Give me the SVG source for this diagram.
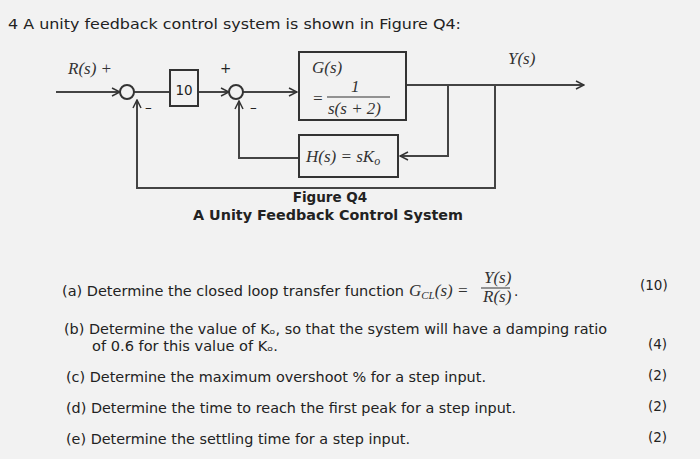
<svg xmlns="http://www.w3.org/2000/svg" width="700" height="459" viewBox="0 0 700 459">
<defs><marker id="ah" markerWidth="10" markerHeight="10" refX="9" refY="5" orient="auto" markerUnits="userSpaceOnUse"><path d="M1,1 L9,5 L1,9" fill="none" stroke="#333" stroke-width="1.5"/></marker></defs>
<style>
.t{font-family:"DejaVu Sans",sans-serif;fill:#222;font-size:13.5px}
.m{font-family:"Liberation Serif",serif;font-style:italic;fill:#333;font-size:17px}
.b{fill:none;stroke:#333;stroke-width:2}
.l{fill:none;stroke:#444;stroke-width:2}
</style>
<rect width="700" height="459" fill="#f2f2f2"/>
<text class="t" x="8" y="29" font-size="15" textLength="453" lengthAdjust="spacingAndGlyphs">4  A unity feedback control system is shown in Figure Q4:</text>
<g id="conn">
<path class="l" d="M56,92 H120" marker-end="url(#ah)"/>
<path class="l" d="M134,92 H170"/>
<path class="l" d="M198,92 H229" marker-end="url(#ah)"/>
<path class="l" d="M243,92 H297" marker-end="url(#ah)"/>
<path class="l" d="M406,85 H584" marker-end="url(#ah)"/>
<path class="l" d="M448,85 V156 H400" marker-end="url(#ah)"/>
<path class="l" d="M299,158 H239 V101" marker-end="url(#ah)"/>
<path class="l" d="M495,85 V188 H137 V100" marker-end="url(#ah)"/>
</g>
<g id="sum1"><circle class="b" cx="127" cy="92" r="7"/><text class="m" x="68" y="74">R(s) +</text><text class="t" x="145" y="112" font-size="16">–</text></g>
<g id="gain"><rect class="b" x="170" y="70" width="28" height="36" fill="none"/><text class="t" x="184" y="95" text-anchor="middle" font-family="Liberation Serif" font-size="16">10</text></g>
<g id="sum2"><circle class="b" cx="236" cy="92" r="7"/><text class="t" x="220" y="73" font-size="15">+</text><text class="t" x="250" y="112" font-size="16">–</text></g>
<g id="G"><rect class="b" x="299" y="52" width="107" height="68"/><text class="m" x="312" y="73">G(s)</text><text class="m" x="351" y="92" font-style="normal">1</text><path d="M327,97 H390" stroke="#333" stroke-width="1"/><text class="m" x="312" y="104" font-style="normal">=</text><text class="m" x="328" y="114">s(s + 2)</text></g>
<g id="H"><rect class="b" x="299" y="135" width="99" height="42"/><text class="m" x="306" y="162">H(s) = sK<tspan font-size="12" dy="3">o</tspan></text></g>
<text class="m" x="508" y="64">Y(s)</text>
<text class="t" x="330" y="202" text-anchor="middle" font-weight="bold" font-size="14">Figure Q4</text>
<text class="t" x="328" y="220" text-anchor="middle" font-weight="bold" font-size="14" textLength="270" lengthAdjust="spacingAndGlyphs">A Unity Feedback Control System</text>
<text class="t" x="62" y="296" textLength="342" lengthAdjust="spacingAndGlyphs">(a) Determine the closed loop transfer function</text>
<text class="m" x="409" y="296" font-size="16">G<tspan font-size="11" dy="3">CL</tspan><tspan dy="-3">(s) =</tspan></text>
<text class="m" x="484" y="283" font-size="11">Y(s)</text><path d="M481,288 H510" stroke="#333"/><text class="m" x="483" y="302" font-size="11">R(s)</text><text class="t" x="514" y="296">.</text>
<text class="t" x="640" y="290">(10)</text>
<text class="t" x="64" y="334" textLength="543" lengthAdjust="spacingAndGlyphs">(b) Determine the value of Kₒ, so that the system will have a damping ratio</text>
<text class="t" x="92" y="351" textLength="186" lengthAdjust="spacingAndGlyphs">of 0.6 for this value of Kₒ.</text>
<text class="t" x="648" y="349">(4)</text>
<text class="t" x="66" y="382" textLength="420" lengthAdjust="spacingAndGlyphs">(c) Determine the maximum overshoot % for a step input.</text>
<text class="t" x="648" y="380">(2)</text>
<text class="t" x="66" y="413" textLength="450" lengthAdjust="spacingAndGlyphs">(d) Determine the time to reach the first peak for a step input.</text>
<text class="t" x="648" y="411">(2)</text>
<text class="t" x="66" y="444" textLength="344" lengthAdjust="spacingAndGlyphs">(e) Determine the settling time for a step input.</text>
<text class="t" x="648" y="442">(2)</text>
</svg>
